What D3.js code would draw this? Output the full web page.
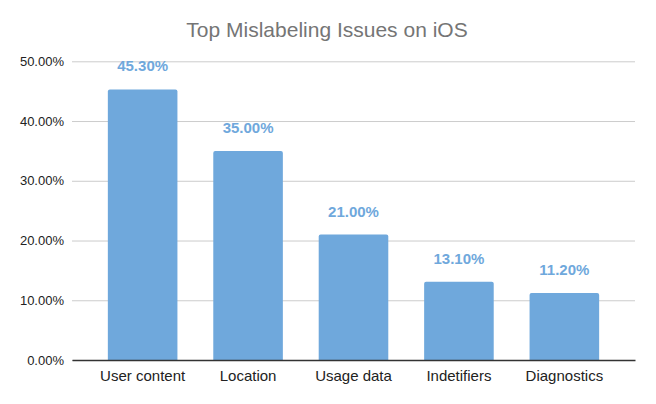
<!DOCTYPE html>
<html>
<head>
<meta charset="utf-8">
<script src="https://cdn.jsdelivr.net/npm/d3@7"></script>
<style>
  body { margin: 0; background: #fff; }
  svg { display: block; font-family: Arial, "Liberation Sans", sans-serif; }
</style>
</head>
<body>
<div id="chart"></div>
<script>
// Chart data
var categories = ["User content", "Location", "Usage data", "Indetifiers", "Diagnostics"];
var values = [45.3, 35.0, 21.0, 13.1, 11.2];
var yTicks = [0, 10, 20, 30, 40, 50];

var width = 656;
var height = 404;

// plot area (note: "top" is reserved on window, so use plot*)
var plotLeft = 72, plotRight = 635, plotTop = 61.3, plotBottom = 360;

var svg = d3.select("#chart")
    .append("svg")
    .attr("width", width)
    .attr("height", height);

svg.append("rect")
    .attr("width", width)
    .attr("height", height)
    .attr("fill", "#fff");

// Title
svg.append("text")
    .attr("x", 327)
    .attr("y", 37)
    .attr("text-anchor", "middle")
    .attr("font-size", 21)
    .attr("fill", "#757575")
    .text("Top Mislabeling Issues on iOS");

var xScale = d3.scaleBand()
    .domain(categories)
    .range([plotLeft, plotRight])
    .paddingInner(0.34)
    .paddingOuter(0.34);

var yScale = d3.scaleLinear()
    .domain([0, 50])
    .range([plotBottom, plotTop]);

// Gridlines + y labels
var yAxis = d3.axisLeft(yScale)
    .tickValues(yTicks)
    .tickSize(-(plotRight - plotLeft))
    .tickPadding(8)
    .tickFormat(function(d) { return d.toFixed(2) + "%"; });

var gy = svg.append("g")
    .attr("transform", `translate(${plotLeft}, 0)`)
    .call(yAxis);
gy.select(".domain").remove();
gy.selectAll(".tick line").attr("stroke", "#cccccc");
gy.selectAll(".tick text")
    .attr("font-size", 13)
    .attr("fill", "#222");

// Bars with slightly rounded tops
var r = 2;
svg.selectAll("path.bar")
    .data(categories)
    .enter()
    .append("path")
    .attr("class", "bar")
    .attr("fill", "#6fa8dc")
    .attr("d", function(d, i) {
        var x0 = xScale(d), x1 = x0 + xScale.bandwidth();
        var y0 = yScale(values[i]), y1 = yScale(0);
        return `M${x0},${y1} L${x0},${y0 + r} Q${x0},${y0} ${x0 + r},${y0}` +
               ` L${x1 - r},${y0} Q${x1},${y0} ${x1},${y0 + r} L${x1},${y1} Z`;
    });

// Value labels
svg.selectAll("text.val")
    .data(categories)
    .enter()
    .append("text")
    .attr("class", "val")
    .attr("x", function(d) { return xScale(d) + xScale.bandwidth() / 2; })
    .attr("y", function(d, i) { return yScale(values[i]) - 18; })
    .attr("text-anchor", "middle")
    .attr("font-size", 15)
    .attr("font-weight", "bold")
    .attr("fill", "#6fa8dc")
    .text(function(d, i) { return values[i].toFixed(2) + "%"; });

// X axis
var xAxis = d3.axisBottom(xScale).tickSize(0).tickPadding(10);
var gx = svg.append("g")
    .attr("transform", `translate(0, ${plotBottom})`)
    .call(xAxis);
gx.select(".domain").attr("stroke", "#333").attr("stroke-width", 1.5);
gx.selectAll(".tick text")
    .attr("font-size", 15)
    .attr("fill", "#222");
</script>
</body>
</html>
